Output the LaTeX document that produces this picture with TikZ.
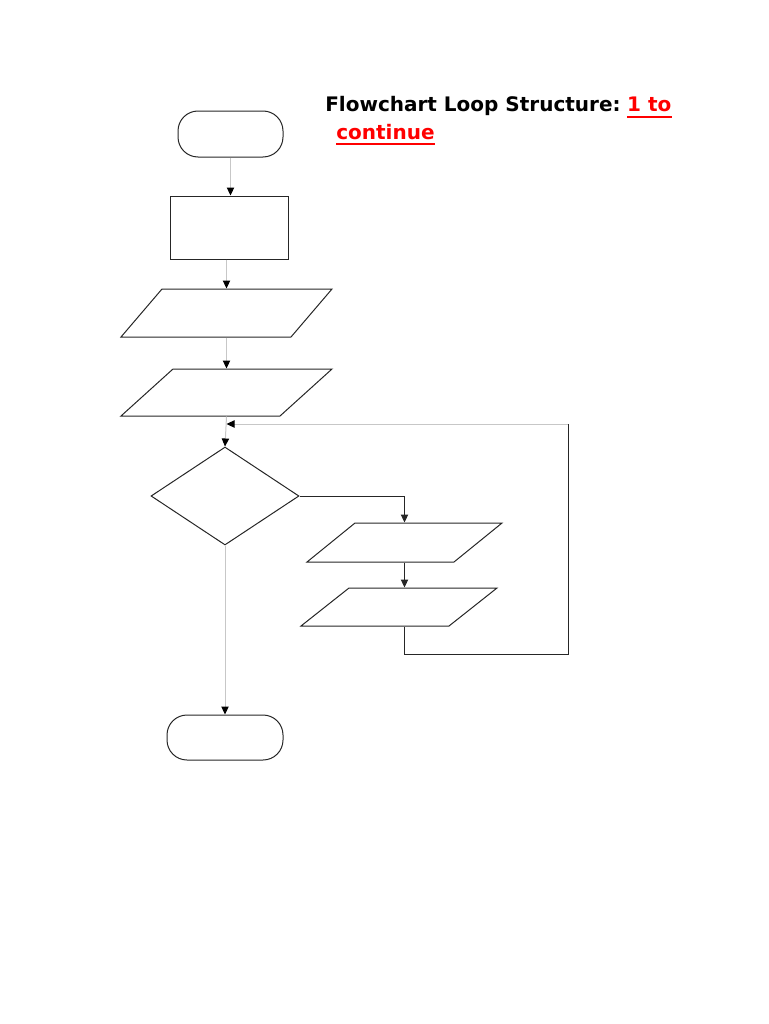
\documentclass[tikz,border=0pt]{standalone}
\usepackage{fontspec}
\setmainfont{DejaVu Sans}
\usetikzlibrary{shapes.geometric,arrows.meta}
\begin{document}
\begin{tikzpicture}[x=0.75pt,y=-0.75pt,
  every node/.style={inner sep=0pt},
  box/.style={draw=black!85,line width=0.75pt},
  term/.style={box,rectangle,rounded corners=15pt,minimum width=78.75pt,minimum height=34.5pt},
  io/.style={box,rectangle,xslant=#1,transform shape},
  faint/.style={draw=black!22,line width=0.75pt,-{Triangle[length=6pt,width=5.5pt,black]}},
  dark/.style={draw=black!85,line width=0.75pt},
  heading/.style={anchor=base west,font=\fontsize{15}{18}\selectfont\bfseries},
  uline/.style={draw=red,line width=1.4pt}]
\useasboundingbox (0,0) rectangle (768,1024);
\coordinate (o1) at (230.5,134);
\coordinate (o2) at (229,227.5);
\coordinate (o3) at (226.5,313);
\coordinate (o4) at (226.5,392.5);
\coordinate (o5) at (225,496);
\coordinate (o6) at (404.5,542.5);
\coordinate (o7) at (399,607);
\coordinate (o8) at (225,737.5);
\coordinate (join) at (226.5,424);
\coordinate (loopbr) at (568,654);
\coordinate (looptr) at (568,424);

  \node (start) at (o1) [term] {};
  \node (proc) at (o2) [box,minimum width=88.5pt,minimum height=47.25pt] {};
  \node (in1) at (o3) [io=0.854,minimum width=127.5pt,minimum height=36pt] {};
  \node (in2) at (o4) [io=1.106,minimum width=119.25pt,minimum height=35.25pt] {};
  \node (dec) at (o5) [box,diamond,minimum width=111pt,minimum height=73.5pt] {};
  \node (out1) at (o6) [io=1.231,minimum width=110.25pt,minimum height=29.25pt] {};
  \node (out2) at (o7) [io=1.263,minimum width=111pt,minimum height=28.5pt] {};
  \node (stop) at (o8) [term,minimum width=87pt,minimum height=33.75pt] {};

  \draw[faint] (start) -- (start |- proc.north);
  \draw[faint] (in1.center |- proc.south) -- (in1.center |- in1.north);
  \draw[faint] (in1.center |- in1.south) -- (in2.center |- in2.north);
  \draw[faint] (in2.center |- in2.south) -- (dec.north);
  \draw[faint] (dec.south) -- (stop.north);
  \draw[dark,-{Triangle[length=6pt,width=5.5pt]}] (dec.east) -| (out1.center |- out1.north);
  \draw[dark,-{Triangle[length=6pt,width=5.5pt]}] (out1.center |- out1.south) -- (out1.center |- out2.north);
  \draw[dark] (out1.center |- out2.south) |- (loopbr) -- (looptr);
  \draw[faint] (looptr) -- (join);

  \node (title) at (325,112) [heading] {Flowchart Loop Structure:};
  \node (red1) at ([xshift=4.5pt]title.base east) [heading,text=red] {1 to};
  \node (red2) at (336,139) [heading,text=red] {continue};
  \draw[uline] ([yshift=-3.6pt]red1.base west) -- ([yshift=-3.6pt]red1.base east);
  \draw[uline] ([yshift=-3.6pt]red2.base west) -- ([yshift=-3.6pt]red2.base east);
\end{tikzpicture}
\end{document}
